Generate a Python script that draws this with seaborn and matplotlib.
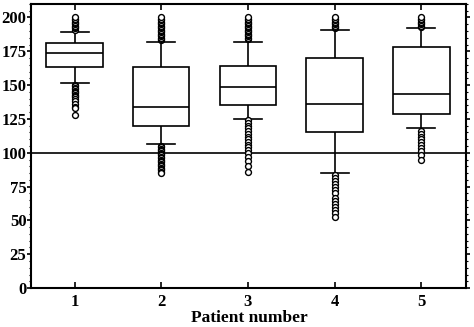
import numpy as np
import pandas as pd
import matplotlib
matplotlib.use("Agg")
import matplotlib.pyplot as plt
from matplotlib.ticker import MultipleLocator
import seaborn as sns

patients = ["1", "2", "3", "4", "5"]
q1 = [163.5, 119.8, 135.3, 115.3, 128.6]
median = [173.8, 133.6, 148.9, 136.0, 143.2]
q3 = [181.3, 163.5, 164.2, 170.1, 178.2]
whisker_lo = [151.3, 106.7, 125.2, 85.4, 118.3]
whisker_hi = [189.0, 181.5, 182.2, 190.6, 192.0]

outliers = {
    "1": [191, 192, 193, 194, 195, 196, 197, 198, 199, 200,
          150, 149, 148, 147, 146, 145, 144, 143, 142, 141, 140, 138, 136, 134, 133, 128],
    "2": [183, 184, 185, 186, 187, 188, 189, 190, 191, 192, 193, 194, 195, 196, 197, 198, 199, 200,
          105, 104, 103, 102, 101, 100, 99, 98, 97, 96, 95, 94, 93, 92, 91, 90, 89, 88, 87, 86, 85],
    "3": [184, 185, 186, 187, 188, 189, 190, 191, 192, 193, 194, 195, 196, 197, 198, 199, 200,
          124, 122, 120, 118, 116, 114, 112, 110, 108, 106, 104, 102, 100, 97, 93.6, 90, 86.1],
    "4": [192, 193, 194, 195, 196, 197, 198, 199, 200,
          83.7, 81.5, 79.3, 77, 74.8, 72.6, 70.4, 66.7, 64.4, 62.2, 60, 57.8, 55.6, 52.6],
    "5": [193, 194, 195, 196, 197, 198, 199, 200,
          116, 114, 112, 110, 108, 106, 103.7, 101, 98, 94.8],
}

plt.rcParams["font.family"] = ["Liberation Serif", "DejaVu Serif"]
plt.rcParams["font.weight"] = "bold"

rows = []
for i, p in enumerate(patients):
    for v in [whisker_lo[i], q1[i], median[i], q3[i], whisker_hi[i]]:
        rows.append({"Patient": p, "value": v})
box_df = pd.DataFrame(rows)
out_df = pd.DataFrame([{"Patient": p, "value": v} for p in patients for v in outliers[p]])

fig = plt.figure(figsize=(4.74, 3.27), dpi=100)
ax = fig.add_axes([0.066, 0.119, 0.918, 0.869])

lw = 1.2
sns.boxplot(data=box_df, x="Patient", y="value", order=patients, whis=(0, 100),
            width=0.65, fliersize=0, color="white", linecolor="black", linewidth=lw,
            ax=ax, zorder=3)
sns.scatterplot(data=out_df, x="Patient", y="value", ax=ax, marker="o",
                s=18, facecolor="white", edgecolor="black", linewidth=1.0, zorder=4,
                legend=False)

ax.axhline(100, color="black", lw=1.2, zorder=2)

ax.set_xlim(-0.5, 4.52)
ax.set_ylim(0, 210)
ax.yaxis.set_major_locator(MultipleLocator(25))
ax.yaxis.set_minor_locator(MultipleLocator(5))
ax.set_yticks([0, 25, 50, 75, 100, 125, 150, 175, 200])
ax.set_xlabel("Patient number", fontsize=12.5, fontweight="bold", labelpad=0)
ax.set_ylabel("")
for s in ax.spines.values():
    s.set_linewidth(1.5)
    s.set_color("black")
ax.tick_params(axis="y", which="major", direction="out", length=3, width=1.2,
               labelsize=12, pad=0.5, right=True)
ax.tick_params(axis="y", which="minor", direction="out", length=1.5, width=0.8, right=True)
ax.tick_params(axis="x", which="major", direction="in", length=4, width=1.2,
               labelsize=12, pad=4, top=True)
for lab in ax.get_xticklabels() + ax.get_yticklabels():
    lab.set_fontweight("bold")

fig.savefig("out.png", dpi=100)
